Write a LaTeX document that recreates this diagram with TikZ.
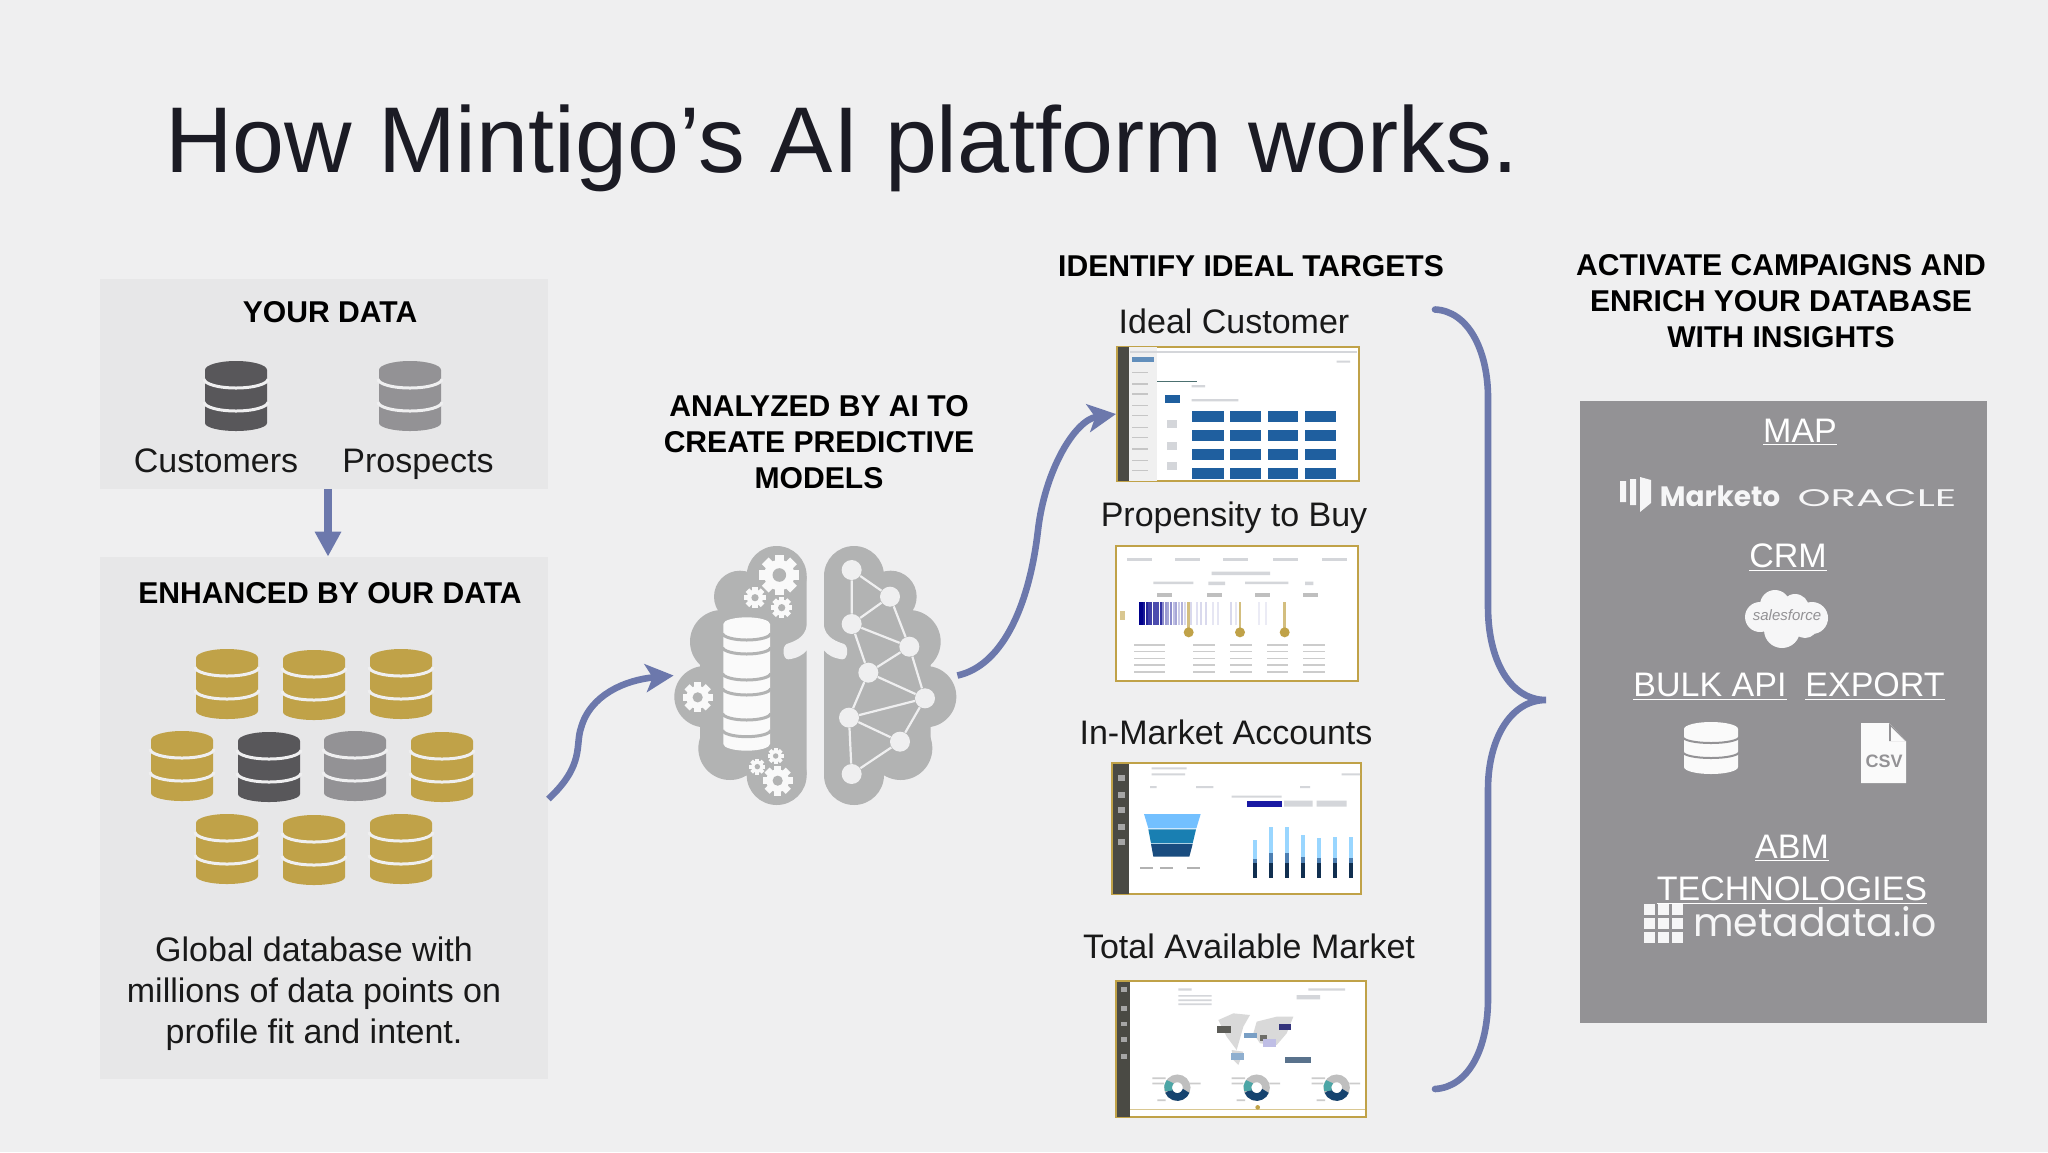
\documentclass[tikz,border=0pt]{standalone}
\usepackage{fontspec}
\setmainfont{Liberation Sans}
\newfontfamily\logofont{Poppins}
\usepackage{tikz}
\usetikzlibrary{arrows.meta}
\definecolor{pagebg}{HTML}{EFEFF0}
\definecolor{boxbg}{HTML}{E7E7E8}
\definecolor{flowblue}{HTML}{6C78AC}
\definecolor{gold}{HTML}{C0A248}
\definecolor{darkdb}{HTML}{58575A}
\definecolor{greydb}{HTML}{939295}
\definecolor{brain}{HTML}{B2B3B3}
\definecolor{uiblue}{HTML}{1F5F9F}
\definecolor{uidark}{HTML}{4A4A44}
\definecolor{uiline}{HTML}{D4D6DA}
\definecolor{ink}{HTML}{1B1B24}
\begin{document}
\begin{tikzpicture}[x=0.5pt,y=-0.5pt]
\tikzstyle{panel}=[fill=boxbg,inner sep=0,rectangle]
\tikzstyle{heading}=[font=\fontsize{15.05}{18}\selectfont\bfseries,align=center,text=black]
\tikzstyle{body}=[font=\fontsize{17}{20.5}\selectfont,align=center,text=black!90]
\tikzstyle{tool}=[font=\fontsize{17}{20}\selectfont,text=white,align=center]
\tikzstyle{shot}=[draw=gold,line width=1pt,fill=white,inner sep=0,rectangle]
\tikzstyle{flow}=[draw=flowblue,line width=3.3pt,-{Stealth[length=14pt,width=14pt,inset=3.5pt]}]
\tikzstyle{joint}=[circle,fill=pagebg,minimum size=10pt,inner sep=0]
\fill[pagebg] (0,0) rectangle (2048,1152);
\useasboundingbox (0,0) rectangle (2048,1152);
\node[anchor=base west,inner sep=0,font=\fontsize{46.7}{50}\selectfont,text=ink] (title) at (165,172) {How Mintigo’s AI platform works.};
\node[panel,minimum width=224pt,minimum height=105pt] (yourdata) at (324,383.5) {};
\node[panel,minimum width=224pt,minimum height=261pt] (enhanced) at (324,818) {};
\node[heading,anchor=base] (yourlabel) at (330,322) {YOUR DATA};
\node[heading,anchor=base] (enhlabel) at (330,603) {ENHANCED BY OUR DATA};
\node[body,anchor=base] (customers) at (216,472) {Customers};
\node[body,anchor=base] (prospects) at (418,472) {Prospects};
\node[body] (global) at (314,994) {Global database with\\millions of data points on\\profile fit and intent.};
\foreach \x/\y/\c in {236/361/darkdb,410/361/greydb,227/649/gold,314/650/gold,401/649/gold,182/731/gold,269/732/darkdb,355/731/greydb,442/732/gold,227/814/gold,314/815/gold,401/814/gold}{
  \fill[\c] (\x-31,\y+9) arc[start angle=180,end angle=360,x radius=31,y radius=9] -- (\x+31,\y+62) arc[start angle=0,end angle=180,x radius=31,y radius=8] -- cycle;
  \draw[pagebg,line width=1.5pt] (\x-32,\y+18) arc[start angle=180,end angle=0,x radius=32,y radius=9];
  \draw[pagebg,line width=1.5pt] (\x-32,\y+41) arc[start angle=180,end angle=0,x radius=32,y radius=9];
}
\draw[flowblue,line width=4pt,-{Stealth[length=12.5pt,width=12.5pt,inset=0pt]}] ([xshift=2pt]yourdata.south) -- ([xshift=2pt]enhanced.north);
\node[heading] (analyzed) at (819,442) {ANALYZED BY AI TO\\CREATE PREDICTIVE\\MODELS};
\node[inner sep=0,minimum width=141.5pt,minimum height=129pt] (mind) at (815.5,675.5) {};
\begin{scope}[shift={(640,500)},scale=1/3]
\foreach \s/\o in {1/0,-1/1052}{
  \begin{scope}[shift={(\o,0)},xscale=\s]
  \fill[brain] (410,228) circle (90) (300,290) circle (78) (245,425) circle (95) (195,590) circle (92) (270,745) circle (95) (410,825) circle (90);
  \fill[brain] (260,228) rectangle (500,825) (180,420) rectangle (300,750);
  \fill[pagebg] (501,375) .. controls (495,415) and (460,425) .. (440,432) .. controls (425,440) and (428,478) .. (445,478) .. controls (470,475) and (490,465) .. (501,450) -- cycle;
  \end{scope}
}
\foreach \x/\y/\r in {418/225/60,345/293/32,425/323/32,173/592/45,407/768/24,352/800/24,413/842/45}{
  \foreach \a in {0,45,...,315}
    \fill[white!60!pagebg,rotate around={\a:(\x,\y)}] (\x-0.24*\r,\y-\r) rectangle (\x+0.24*\r,\y);
  \fill[white!60!pagebg] (\x,\y) circle ({0.76*\r});
  \fill[brain] (\x,\y) circle ({0.34*\r});
}
\fill[white!70!pagebg] (250,372) arc[start angle=180,end angle=360,x radius=70,y radius=20] -- (390,732) arc[start angle=0,end angle=180,x radius=70,y radius=20] -- cycle;
\foreach \y in {400,442,520,565,640,690}
  \draw[brain,line width=1.5pt] (248,\y) arc[start angle=180,end angle=0,x radius=72,y radius=20];
\node[joint] (n1) at (635,210) {};
\node[joint] (n2) at (750,290) {};
\node[joint] (n3) at (635,372) {};
\node[joint] (n4) at (808,440) {};
\node[joint] (n5) at (685,518) {};
\node[joint] (n6) at (855,595) {};
\node[joint] (n7) at (627,653) {};
\node[joint] (n8) at (780,725) {};
\node[joint] (n9) at (635,822) {};
\foreach \a/\b in {n1/n2,n1/n3,n2/n3,n2/n4,n3/n4,n3/n5,n4/n5,n4/n6,n5/n6,n5/n7,n6/n7,n6/n8,n7/n8,n7/n9,n8/n9}
  \draw[pagebg,line width=1.1pt] (\a) -- (\b);
\end{scope}
\draw[flow] ([yshift=9.5pt]enhanced.east) .. controls (585,765) and (575,745) .. (581,728) .. controls (590,695) and (625,680) .. (mind.west);
\node[heading] (identify) at (1251,266) {IDENTIFY IDEAL TARGETS};
\node[body,anchor=base] (ideal) at (1234,333) {Ideal Customer};
\node[body,anchor=base] (propensity) at (1234,526) {Propensity to Buy};
\node[body,anchor=base] (inmarket) at (1226,744) {In-Market Accounts};
\node[body,anchor=base] (total) at (1249,958) {Total Available Market};
\node[shot,minimum width=121pt,minimum height=67pt] (shot1) at (1238,414) {};
\node[shot,minimum width=121pt,minimum height=67.5pt] (shot2) at (1237,613.5) {};
\node[shot,minimum width=124.5pt,minimum height=65.5pt] (shot3) at (1236.5,828.5) {};
\node[shot,minimum width=125pt,minimum height=68pt] (shot4) at (1241,1049) {};
\draw[flow] (mind.east) .. controls (1005,665) and (1030,600) .. (1038,530) .. controls (1045,470) and (1075,420) .. (shot1.west);
\begin{scope}[shift={(1090,330)},scale=1/3]
\fill[uidark] (84,52) rectangle (118,452);
\fill[gray!12] (118,52) rectangle (200,452);
\fill[uiblue!70] (125,82) rectangle (192,95);
\foreach \y in {125,160,190,225,255,290,320,355,390,420}
  \fill[gray!45] (125,\y) rectangle (175,\y+4);
\fill[uiline] (120,64) rectangle (800,68);
\fill[teal!40!black!70] (200,152) rectangle (322,155);
\fill[uiblue] (224,195) rectangle (270,220);
\foreach \y in {270,335,395}
  \fill[uiline] (232,\y) rectangle (262,\y+25);
\foreach \x/\w in {306/96,421/92,533/92,644/94}
  \foreach \y/\h in {243/34,301/32,357/33,414/33}
    \fill[uiblue] (\x,\y) rectangle (\x+\w,\y+\h);
\fill[uiline] (305,165) rectangle (345,172) (305,207) rectangle (445,214) (740,92) rectangle (780,98);
\foreach \x in {110,255,400,550,695}
  \fill[uiline] (\x,685) rectangle (\x+75,692);
\fill[uiline] (365,725) rectangle (540,735) (190,755) rectangle (310,762) (355,755) rectangle (405,765) (465,755) rectangle (595,762) (645,755) rectangle (670,765);
\foreach \x in {200,350,495,640}
  \fill[gray!50] (\x,790) rectangle (\x+45,802);
\foreach \x/\o in {146/100,153/100,160/90,167/85,174/75,181/75,188/70,195/70,202/70,209/80,216/45,224/40,232/35,240/45,248/25,256/35,264/20,272/30,282/15,300/15,318/12,330/15,345/15,365/10,380/10,420/15,435/10,505/8,525/8}
  \fill[blue!55!black,opacity=\o/100] (\x,817) rectangle (\x+6,885);
\foreach \x in {296,450,584}{
  \fill[gold!70] (\x-4,815) rectangle (\x+4,895);
  \fill[gold] (\x,907) circle (15);
}
\fill[gold!60] (90,843) rectangle (104,870);
\foreach \y in {945,965,986,1006,1027}{
  \fill[gray!40] (132,\y-3) rectangle (225,\y+2);
  \foreach \x in {310,420,530,640}
    \fill[gray!40] (\x,\y-3) rectangle (\x+65,\y+2);
}
\end{scope}
\begin{scope}[shift={(1090,750)},scale=1/3]
\fill[uidark] (68,42) rectangle (118,431);
\foreach \y in {75,125,172,222,268}
  \fill[gray!70] (85,\y) rectangle (105,\y+18);
\fill[uiline] (185,52) rectangle (290,58) (185,70) rectangle (285,76) (755,70) rectangle (810,76) (180,108) rectangle (200,114) (318,108) rectangle (370,114) (425,137) rectangle (575,143) (630,108) rectangle (660,114);
\fill[blue!60!black!90] (472,152) rectangle (575,170);
\fill[uiline] (582,152) rectangle (668,170) (680,152) rectangle (770,170);
\fill[blue!45!cyan!55] (162,192) -- (332,192) -- (319,235) -- (175,235) -- cycle;
\fill[uiblue!80!cyan] (175,238) -- (318,238) -- (308,280) -- (183,280) -- cycle;
\fill[uiblue!80!black] (183,282) -- (308,282) -- (298,320) -- (190,320) -- cycle;
\foreach \x in {150,210,290}
  \fill[gray!60] (\x,350) rectangle (\x+40,357);
\foreach \x/\y in {495/270,543/230,591/232,638/255,686/265,734/260,782/260}{
  \fill[blue!40!cyan!40] (\x-6,\y) rectangle (\x+6,385);
  \fill[uiblue!80] (\x-6,{(\y+385)/2}) rectangle (\x+6,385);
  \fill[uiblue!50!black] (\x-6,340) rectangle (\x+6,385);
}
\fill[uidark] (80,695) rectangle (120,1100);
\foreach \y in {712,768,815,862,912}
  \fill[gray!70] (93,\y) rectangle (111,\y+14);
\fill[uiline] (265,715) rectangle (305,722) (265,735) rectangle (365,740) (265,748) rectangle (365,753) (265,760) rectangle (365,765) (655,715) rectangle (765,722) (620,735) rectangle (690,748);
\fill[gray!30] (385,810) -- (430,790) -- (480,795) -- (460,830) -- (440,900) -- (410,860) -- cycle;
\fill[gray!30] (500,815) -- (560,800) -- (610,800) -- (590,850) -- (560,885) -- (510,880) -- (490,850) -- cycle;
\fill[gray!30] (425,900) -- (460,905) -- (445,945) -- (430,930) -- cycle;
\fill[uidark!90] (380,828) rectangle (424,848);
\fill[uiblue!60] (463,848) rectangle (502,864);
\fill[uidark!80] (510,855) rectangle (532,872);
\fill[cyan!20!blue!25] (520,868) rectangle (558,890);
\fill[uidark!70!blue] (568,822) rectangle (602,840);
\fill[uiblue!50] (423,910) rectangle (462,930);
\fill[uiblue!40!gray] (586,920) rectangle (662,940);
\foreach \x in {262,500,740}{
  \draw[gray!50,line width=3.8pt] (\x,1013) circle (28);
  \draw[uiblue!70!black,line width=3.8pt] (\x,1013) ++(20:28) arc[start angle=20,end angle=160,radius=28];
  \draw[teal!70,line width=3.8pt] (\x,1013) ++(160:28) arc[start angle=160,end angle=220,radius=28];
  \fill[gray!40] (\x-75,982) rectangle (\x-35,987) (\x-75,998) rectangle (\x-40,1003) (\x+38,998) rectangle (\x+70,1003) (\x-60,1048) rectangle (\x-35,1053);
}
\fill[gold!60] (120,1078) rectangle (826,1080);
\fill[gold] (503,1072) circle (7);
\end{scope}
\coordinate (braceup) at (1435,309.5);
\coordinate (bracedown) at (1435,1089);
\coordinate (bracetip) at (1546,700);
\draw[flowblue,line width=3.3pt,line cap=round] (braceup) .. controls (1468,311) and (1488,350) .. (1488,398) -- (1488,607) .. controls (1488,660) and (1510,700) .. (bracetip) .. controls (1510,700) and (1488,740) .. (1488,789) -- (1488,998) .. controls (1488,1050) and (1468,1087) .. (bracedown);
\node[heading] (activate) at (1781,301.5) {ACTIVATE CAMPAIGNS AND\\ENRICH YOUR DATABASE\\WITH INSIGHTS};
\node[fill=greydb,inner sep=0,minimum width=203.5pt,minimum height=311pt] (stack) at (1783.5,712) {};
\node[tool,anchor=base] (map) at (1800,442) {\underline{MAP}};
\node[tool,anchor=base] (crm) at (1788,567) {\underline{CRM}};
\node[tool,anchor=base] (bulk) at (1710,696) {\underline{BULK API}};
\node[tool,anchor=base] (export) at (1875,696) {\underline{EXPORT}};
\node[tool,anchor=base] (abm) at (1792,858) {\underline{ABM}};
\node[tool,anchor=base] (tech) at (1792,900) {\underline{TECHNOLOGIES}};
\fill[white!92!greydb] (1620,481) rectangle (1626,502) (1630,479) rectangle (1636,505) (1640,477) -- (1651,480) -- (1651,503) -- (1640,512) -- cycle;
\node[anchor=base,inner sep=0,text=white!92!greydb,font=\logofont\bfseries\fontsize{14}{18}\selectfont] (marketo) at (1720,506) {Marketo};
\node[anchor=base,inner sep=0,text=white!92!greydb,font=\logofont\fontsize{12}{14}\selectfont,xscale=1.75] (oracle) at (1877,506) {ORACLE};
\fill[white!92!greydb] (1760,617) circle (15) (1775,605) circle (15) (1795,608) circle (14) (1812,618) circle (16) (1782,630) circle (18) (1805,625) circle (13) (1787,618) circle (20);
\node[inner sep=0,text=greydb,font=\fontsize{7.5}{9}\selectfont\itshape] (sales) at (1787,615) {salesforce};
\fill[white!95!greydb] (1684,729) arc[start angle=180,end angle=360,x radius=27,y radius=7] -- (1738,767) arc[start angle=0,end angle=180,x radius=27,y radius=7] -- cycle;
\foreach \y in {737,752}
  \draw[greydb,line width=1pt] (1683,\y) arc[start angle=180,end angle=0,x radius=28,y radius=6];
\fill[white!95!greydb] (1861,723) -- (1889,723) -- (1906,741) -- (1906,783) -- (1861,783) -- cycle;
\fill[greydb] (1889,723) -- (1906,741) -- (1889,741) -- cycle;
\fill[white!95!greydb] (1891,727) -- (1905,741) -- (1891,741) -- cycle;
\node[inner sep=0,text=greydb,font=\fontsize{9}{11}\selectfont\bfseries] (csv) at (1884,761) {CSV};
\foreach \x in {1644,1658,1672}
  \foreach \y in {904,918,932}
    \fill[white!92!greydb] (\x,\y) rectangle (\x+11,\y+11);
\node[anchor=base,inner sep=0,text=white!92!greydb,font=\logofont\fontsize{19.7}{24}\selectfont] (meta) at (1815,936) {metadata.io};
\end{tikzpicture}
\end{document}
